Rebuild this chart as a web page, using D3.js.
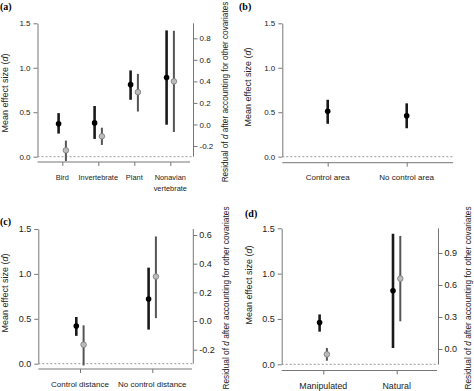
<!DOCTYPE html>
<html>
<head>
<meta charset="utf-8">
<script src="https://cdn.jsdelivr.net/npm/d3@7"></script>
<style>
  body { margin: 0; background: #fff; }
  svg { font-family: "Liberation Sans", Arial, sans-serif; }
  .tick text { fill: #222; }
  .tick line { stroke: #777; }
</style>
</head>
<body>
<div id="chart"></div>
<script>
// (a) taxon
const catsA = [["Bird"], ["Invertebrate"], ["Plant"], ["Nonavian", "vertebrate"]];
const meanA = [0.37, 0.38, 0.81, 0.89];
const loA = [0.26, 0.20, 0.64, 0.36];
const hiA = [0.49, 0.57, 0.97, 1.42];
const residA = [-0.24, -0.11, 0.30, 0.40];
const residLoA = [-0.34, -0.19, 0.12, -0.07];
const residHiA = [-0.15, -0.03, 0.47, 0.87];
const rightTicksA = [-0.2, 0, 0.2, 0.4, 0.6, 0.8];

// (b) control area
const catsB = [["Control area"], ["No control area"]];
const meanB = [0.51, 0.46];
const loB = [0.37, 0.32];
const hiB = [0.64, 0.60];

// (c) control distance
const catsC = [["Control distance"], ["No control distance"]];
const meanC = [0.42, 0.72];
const loC = [0.31, 0.38];
const hiC = [0.52, 1.07];
const residC = [-0.165, 0.31];
const residLoC = [-0.31, 0.02];
const residHiC = [-0.03, 0.59];
const rightTicksC = [-0.2, 0, 0.2, 0.4, 0.6];

// (d) manipulated vs natural
const catsD = [["Manipulated"], ["Natural"]];
const meanD = [0.46, 0.81];
const loD = [0.36, 0.18];
const hiD = [0.55, 1.44];
const residD = [-0.05, 0.66];
const residLoD = [-0.11, 0.26];
const residHiD = [0.01, 1.06];
const rightTicksD = [0, 0.3, 0.6, 0.9];

const leftTicks = [0, 0.5, 1.0, 1.5];
const leftTitle = "Mean effect size (";
const rightTitle = ["Residual of ", "d", " after accounting for other covariates"];

const svg = d3.select("#chart").append("svg")
    .attr("width", 474)
    .attr("height", 391);

const panels = [
  {tag: "(a)", tagX: 0, tagY: 10, cats: catsA, mean: meanA, lo: loA, hi: hiA,
   resid: residA, rlo: residLoA, rhi: residHiA, rticks: rightTicksA,
   left: 37.5, right: 193.5, top: 23.3, zero: 156.7, base: 162, baseEnd: 190,
   x0: 62.3, x1: 170.3, rTop: 38.3, rBot: 146, rDom: [0.8, -0.2],
   fs: 8, catFs: 7.4, catY: 179.5, titleX: 5, titleY: 93,
   rTitleX: 225, rTitleY: 92, rTitleFs: 8.2},
  {tag: "(b)", tagX: 239, tagY: 10, cats: catsB, mean: meanB, lo: loB, hi: hiB,
   left: 282.3, right: null, top: 23.3, zero: 156.7, base: 162.7, baseEnd: 453,
   x0: 327.7, x1: 406.7, dashEnd: 453,
   fs: 8, catFs: 8, catY: 180.3, titleX: 248, titleY: 87},
  {tag: "(c)", tagX: 0, tagY: 225, cats: catsC, mean: meanC, lo: loC, hi: hiC,
   resid: residC, rlo: residLoC, rhi: residHiC, rticks: rightTicksC,
   left: 38.3, right: 193.3, top: 229, zero: 363.7, base: 369, baseEnd: 192,
   x0: 80, x1: 152.3, rTop: 235, rBot: 349.7, rDom: [0.6, -0.2],
   fs: 9, catFs: 8, catY: 387, titleX: 5, titleY: 293,
   rTitleX: 226, rTitleY: 298, rTitleFs: 8.3},
  {tag: "(d)", tagX: 245, tagY: 217, cats: catsD, mean: meanD, lo: loD, hi: hiD,
   resid: residD, rlo: residLoD, rhi: residHiD, rticks: rightTicksD,
   left: 281.7, right: 438.5, top: 228.3, zero: 364.3, base: 370.5, baseEnd: 437,
   x0: 323.3, x1: 396.7, rTop: 253, rBot: 349, rDom: [0.9, 0],
   fs: 9, catFs: 8.8, catY: 388.5, titleX: 249, titleY: 285,
   rTitleX: 468, rTitleY: 298, rTitleFs: 8.3}
];

const fmt = d => d.toFixed(1);

panels.forEach(p => {
  const g = svg.append("g");
  const n = p.cats.length;

  const x = d3.scaleLinear().domain([0, n - 1]).range([p.x0, p.x1]);
  const y = d3.scaleLinear().domain([0, 1.5]).range([p.zero, p.top]);

  // panel tag
  g.append("text")
      .attr("x", p.tagX).attr("y", p.tagY)
      .attr("font-family", "'Liberation Serif', serif")
      .attr("font-weight", "bold")
      .attr("font-size", 10)
      .text(p.tag);

  // left axis
  const ax = g.append("g")
      .attr("transform", "translate(" + p.left + ",0)")
      .call(d3.axisLeft(y).tickValues(leftTicks).tickFormat(fmt).tickSize(4).tickSizeOuter(0).tickPadding(3));
  ax.select(".domain").attr("stroke", "#777");
  ax.selectAll("text").attr("font-size", p.fs).attr("font-family", "'Liberation Sans', Arial, sans-serif");

  // left title
  const lt = g.append("text")
      .attr("transform", "translate(" + p.titleX + "," + p.titleY + ") rotate(-90)")
      .attr("text-anchor", "middle")
      .attr("dy", "0.35em")
      .attr("font-size", 9)
      .attr("fill", "#222");
  lt.append("tspan").text(leftTitle);
  lt.append("tspan").attr("font-style", "italic").text("d");
  lt.append("tspan").text(")");

  // bottom axis
  g.append("line")
      .attr("x1", p.left).attr("x2", p.baseEnd)
      .attr("y1", p.base).attr("y2", p.base)
      .attr("stroke", "#777");
  const bx = g.append("g")
      .attr("transform", "translate(0," + p.base + ")")
      .call(d3.axisBottom(x).tickValues(d3.range(n)).tickSize(4).tickFormat(""));
  bx.select(".domain").remove();

  p.cats.forEach((lines, i) => {
    const t = g.append("text")
        .attr("x", x(i))
        .attr("y", p.catY)
        .attr("text-anchor", "middle")
        .attr("font-size", p.catFs)
        .attr("fill", "#222");
    lines.forEach((s, k) => {
      t.append("tspan").attr("x", x(i)).attr("dy", k === 0 ? 0 : "1.6em").text(s);
    });
  });

  // dashed zero line
  g.append("line")
      .attr("x1", p.left).attr("x2", p.right || p.dashEnd)
      .attr("y1", y(0)).attr("y2", y(0))
      .attr("stroke", "#999")
      .attr("stroke-width", 1)
      .attr("stroke-dasharray", "2,2");

  const off = p.resid ? -3.7 : 0;

  // right axis and residual series
  if (p.resid) {
    const yr = d3.scaleLinear().domain(p.rDom).range([p.rTop, p.rBot]);

    g.append("line")
        .attr("x1", p.right).attr("x2", p.right)
        .attr("y1", p.top).attr("y2", p.zero)
        .attr("stroke", "#777");
    const rx = g.append("g")
        .attr("transform", "translate(" + p.right + ",0)")
        .call(d3.axisRight(yr).tickValues(p.rticks).tickFormat(fmt).tickSize(4).tickPadding(2));
    rx.select(".domain").remove();
    rx.selectAll("text").attr("font-size", p.fs).attr("font-family", "'Liberation Sans', Arial, sans-serif");

    const rt = g.append("text")
        .attr("transform", "translate(" + p.rTitleX + "," + p.rTitleY + ") rotate(-90)")
        .attr("text-anchor", "middle")
        .attr("dy", "0.35em")
        .attr("font-size", p.rTitleFs)
        .attr("fill", "#222");
    rt.append("tspan").text(rightTitle[0]);
    rt.append("tspan").attr("font-style", "italic").text(rightTitle[1]);
    rt.append("tspan").text(rightTitle[2]);

    g.selectAll(".residCI").data(p.resid)
      .enter().append("line")
        .attr("x1", (d, i) => x(i) + 3.6)
        .attr("x2", (d, i) => x(i) + 3.6)
        .attr("y1", (d, i) => yr(p.rlo[i]))
        .attr("y2", (d, i) => yr(p.rhi[i]))
        .attr("stroke", "#555")
        .attr("stroke-width", 2);

    g.selectAll(".residPt").data(p.resid)
      .enter().append("circle")
        .attr("cx", (d, i) => x(i) + 3.6)
        .attr("cy", d => yr(d))
        .attr("r", 2.8)
        .attr("fill", "#bbb")
        .attr("stroke", "#777")
        .attr("stroke-width", 0.8);
  }

  // mean effect series
  g.selectAll(".meanCI").data(p.mean)
    .enter().append("line")
      .attr("x1", (d, i) => x(i) + off)
      .attr("x2", (d, i) => x(i) + off)
      .attr("y1", (d, i) => y(p.lo[i]))
      .attr("y2", (d, i) => y(p.hi[i]))
      .attr("stroke", "#1a1a1a")
      .attr("stroke-width", 2.6);

  g.selectAll(".meanPt").data(p.mean)
    .enter().append("circle")
      .attr("cx", (d, i) => x(i) + off)
      .attr("cy", d => y(d))
      .attr("r", 2.8)
      .attr("fill", "#000");
});
</script>
</body>
</html>
